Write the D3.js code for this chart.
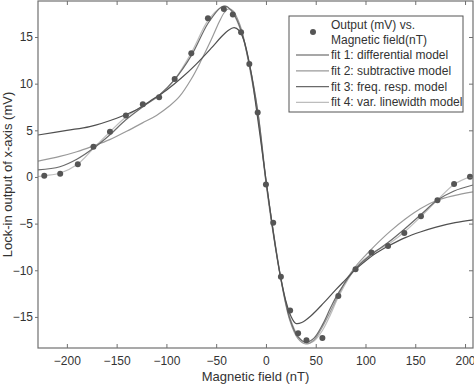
<!DOCTYPE html>
<html>
<head>
<meta charset="utf-8">
<script src="https://cdn.jsdelivr.net/npm/d3@7"></script>
<style>
  body { margin: 0; background: #fff; }
  svg { display: block; font-family: "Liberation Sans", Arial, sans-serif; }
</style>
</head>
<body>
<div id="chart"></div>
<script>
// measured data: magnetic field (nT) vs lock-in output (mV)
const dataX = [-222.7, -206.7, -189, -173.3, -156.7, -140.7, -123.7, -107.3, -91.7, -75, -58.3, -42.3, -33.3, -25, -16.7, -8.3, 0, 7.3, 15, 24.3, 32.3, 40.7, 56.7, 72.7, 90, 106, 122.7, 139, 155.7, 172.3, 189, 205];
const dataY = [0.14, 0.35, 1.36, 3.25, 4.86, 6.6, 7.8, 8.54, 10.5, 13.25, 17.0, 18.0, 17.4, 15.5, 12.1, 6.9, -0.8, -4.9, -10.7, -14.3, -16.75, -17.5, -17.25, -12.75, -9.9, -8.1, -7.4, -6.0, -4.2, -2.5, -0.75, 0.03];

// fit 1: differential model
const fit1X = [-229, -200, -177, -150, -130, -117, -100, -85, -70, -55, -45, -38, -32, -27, -22, -15, -10, -5, 0, 5, 10, 15, 20, 25, 30, 36, 45, 58, 70, 80, 90, 100, 110, 123, 140, 155, 170, 190, 208];
const fit1Y = [4.5, 5.0, 5.4, 6.3, 7.2, 8.1, 9.3, 10.6, 12.1, 13.8, 15.0, 15.7, 16.0, 15.7, 14.6, 11.2, 7.6, 3.7, -0.3, -4.2, -7.8, -10.9, -13.3, -14.9, -15.7, -15.6, -14.9, -13.5, -12.1, -11.0, -9.9, -9.0, -8.2, -7.4, -6.5, -5.9, -5.4, -4.9, -4.6];

// fit 2: subtractive model
const fit2X = [-229, -207, -190, -174, -157, -140, -124, -110, -97, -87, -75, -65, -55, -47, -42, -38, -33, -28, -24, -17, -8, 0, 7, 15, 24, 32, 40, 48, 55, 63, 73, 82, 90, 100, 110, 125, 140, 155, 172, 189, 208];
const fit2Y = [1.7, 2.2, 2.7, 3.3, 4.0, 4.9, 5.8, 6.6, 7.6, 8.6, 10.5, 12.5, 14.7, 16.6, 17.6, 18.0, 17.8, 16.8, 15.6, 12.0, 6.5, -0.6, -5.9, -11.0, -15.4, -17.3, -17.9, -17.5, -16.4, -14.8, -12.6, -10.8, -9.6, -8.4, -7.3, -5.8, -4.5, -3.4, -2.5, -2.0, -1.6];

// fit 3: freq. resp. model
const fit3X = [-229, -207, -190, -173, -157, -141, -124, -107, -92, -75, -58, -45, -40, -33, -25, -17, -8, 0, 7, 15, 24, 32, 40, 48, 57, 65, 73, 90, 106, 123, 139, 156, 172, 189, 208];
const fit3Y = [0.75, 1.1, 1.9, 3.1, 4.5, 6.1, 7.5, 8.8, 10.4, 13.0, 16.5, 18.2, 18.3, 17.6, 15.7, 12.3, 6.9, -0.3, -5.6, -10.9, -15.2, -17.1, -17.7, -17.3, -15.8, -14.0, -12.4, -9.8, -8.3, -7.0, -5.6, -4.0, -2.5, -1.5, -0.86];

// fit 4: var. linewidth model
const fit4X = [-229, -222, -207, -190, -173, -157, -141, -124, -107, -92, -75, -58, -45, -40, -33, -25, -17, -8, 0, 7, 15, 24, 32, 40, 48, 57, 65, 73, 90, 106, 123, 139, 156, 172, 189, 208];
const fit4Y = [0.05, 0.15, 0.4, 1.3, 3.1, 4.8, 6.4, 7.6, 8.7, 10.4, 13.3, 16.8, 18.2, 18.3, 17.5, 15.6, 12.2, 6.8, -0.5, -5.5, -10.8, -15.0, -17.0, -17.8, -17.6, -16.4, -14.7, -12.8, -9.8, -8.2, -7.2, -5.9, -4.2, -2.5, -0.8, 0.15];

const xTicks = [-200, -150, -100, -50, 0, 50, 100, 150, 200];
const yTicks = [-15, -10, -5, 0, 5, 10, 15];

const fits = [
    { name: "fit 1: differential model", xs: fit1X, ys: fit1Y, color: "#505050" },
    { name: "fit 2: subtractive model", xs: fit2X, ys: fit2Y, color: "#9a9a9a" },
    { name: "fit 3: freq. resp. model", xs: fit3X, ys: fit3Y, color: "#6a6a6a" },
    { name: "fit 4: var. linewidth model", xs: fit4X, ys: fit4Y, color: "#bdbdbd" }
];

const width = 474, height = 384;
const plotLeft = 38, plotRight = 473, plotTop = 1, plotBottom = 348;

const svg = d3.select("#chart").append("svg")
    .attr("width", width)
    .attr("height", height);

const x = d3.scaleLinear().domain([-229, 208]).range([plotLeft, plotRight]);
const y = d3.scaleLinear().domain([-18.33, 18.86]).range([plotBottom, plotTop]);

svg.append("defs").append("clipPath").attr("id", "plot-clip")
    .append("rect")
    .attr("x", plotLeft).attr("y", plotTop)
    .attr("width", plotRight - plotLeft).attr("height", plotBottom - plotTop);

// fit curves
const line = d3.line()
    .x(d => x(d[0]))
    .y(d => y(d[1]))
    .curve(d3.curveCatmullRom.alpha(0.5));

const curves = svg.append("g").attr("clip-path", "url(#plot-clip)");
// draw light curves first so dark ones stay on top
[3, 1, 2, 0].forEach(i => {
    const f = fits[i];
    curves.append("path")
        .datum(f.xs.map((v, j) => [v, f.ys[j]]))
        .attr("fill", "none")
        .attr("stroke", f.color)
        .attr("stroke-width", 1.2)
        .attr("d", line);
});

// data points
svg.append("g")
    .selectAll("circle")
    .data(dataX.map((v, i) => [v, dataY[i]]))
    .enter().append("circle")
    .attr("cx", d => x(d[0]))
    .attr("cy", d => y(d[1]))
    .attr("r", 3)
    .attr("fill", "#555");

// axes box with ticks on all sides
const axisColor = "#707070";
const textColor = "#333";

function styleAxis(g) {
    g.select(".domain").remove();
    g.selectAll(".tick line").attr("stroke", axisColor);
    g.selectAll(".tick text")
        .attr("fill", textColor)
        .style("font-size", "12px")
        .style("font-family", "'Liberation Sans', Arial, sans-serif");
}

svg.append("g")
    .attr("transform", `translate(0,${plotBottom})`)
    .call(d3.axisBottom(x).tickValues(xTicks).tickSize(-4).tickPadding(8).tickFormat(d3.format("d")))
    .call(styleAxis);

svg.append("g")
    .attr("transform", `translate(0,${plotTop})`)
    .call(d3.axisTop(x).tickValues(xTicks).tickSize(-4).tickFormat(""))
    .call(styleAxis);

svg.append("g")
    .attr("transform", `translate(${plotLeft},0)`)
    .call(d3.axisLeft(y).tickValues(yTicks).tickSize(3).tickPadding(2).tickFormat(d3.format("d")))
    .call(styleAxis);

svg.append("g")
    .attr("transform", `translate(${plotRight},0)`)
    .call(d3.axisRight(y).tickValues(yTicks).tickSize(-4).tickFormat(""))
    .call(styleAxis);

svg.append("rect")
    .attr("x", plotLeft).attr("y", plotTop)
    .attr("width", plotRight - plotLeft).attr("height", plotBottom - plotTop)
    .attr("fill", "none")
    .attr("stroke", axisColor)
    .attr("stroke-width", 1.2);

// axis titles
svg.append("text")
    .attr("x", (plotLeft + plotRight) / 2)
    .attr("y", 381)
    .attr("text-anchor", "middle")
    .attr("fill", textColor)
    .style("font-size", "13px")
    .text("Magnetic field (nT)");

svg.append("text")
    .attr("transform", `translate(12,${(plotTop + plotBottom) / 2}) rotate(-90)`)
    .attr("text-anchor", "middle")
    .attr("fill", textColor)
    .style("font-size", "13px")
    .text("Lock-in output of x-axis (mV)");

// legend
const legend = svg.append("g");
legend.append("rect")
    .attr("x", 289).attr("y", 16)
    .attr("width", 174).attr("height", 96)
    .attr("fill", "#fff")
    .attr("stroke", "#555")
    .attr("stroke-width", 1);

legend.append("circle")
    .attr("cx", 313).attr("cy", 32)
    .attr("r", 3)
    .attr("fill", "#555");

legend.append("text")
    .attr("x", 331).attr("y", 29)
    .attr("fill", textColor)
    .style("font-size", "12px")
    .text("Output (mV) vs.");

legend.append("text")
    .attr("x", 331).attr("y", 44)
    .attr("fill", textColor)
    .style("font-size", "12px")
    .text("Magnetic field(nT)");

fits.forEach((f, i) => {
    const ly = 55 + i * 15.8;
    legend.append("line")
        .attr("x1", 296).attr("x2", 329)
        .attr("y1", ly).attr("y2", ly)
        .attr("stroke", f.color)
        .attr("stroke-width", 1.2);
    legend.append("text")
        .attr("x", 331).attr("y", ly + 4)
        .attr("fill", textColor)
        .style("font-size", "12px")
        .text(f.name);
});
</script>
</body>
</html>
